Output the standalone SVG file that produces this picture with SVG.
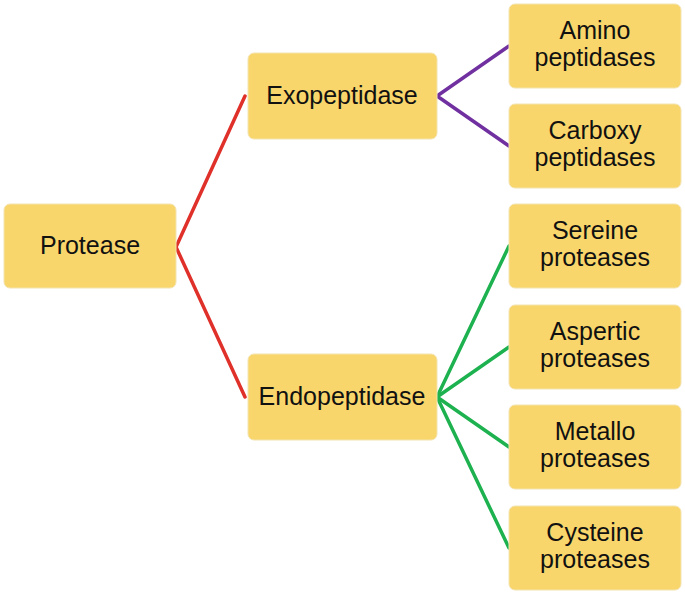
<svg xmlns="http://www.w3.org/2000/svg" width="685" height="594" viewBox="0 0 685 594">
<style>
.box{fill:#F9D66B;stroke:#F3E3B0;stroke-width:1}
.t{font-family:"Liberation Sans",Arial,sans-serif;font-size:25px;fill:#111;text-anchor:middle}
.c{fill:none;stroke-width:3.5;stroke-linecap:round;stroke-linejoin:round}
</style>
<rect width="685" height="594" fill="#fff"/>
<g id="connectors">
<polyline class="c" stroke="#E0302A" points="245,96 176,247 245,397"/>
<polyline class="c" stroke="#7030A0" points="509,46 437,96 509,146"/>
<g stroke="#1DB24F" class="c">
<line x1="437" y1="397" x2="509" y2="246"/>
<line x1="437" y1="397" x2="509" y2="347"/>
<line x1="437" y1="397" x2="509" y2="447"/>
<line x1="437" y1="397" x2="509" y2="548"/>
</g>
</g>
<g id="protease"><rect class="box" x="4" y="204" width="172" height="84" rx="6"/><text class="t" x="90" y="254">Protease</text></g>
<g id="exopeptidase"><rect class="box" x="248" y="53" width="189" height="86" rx="6"/><text class="t" x="342" y="104">Exopeptidase</text></g>
<g id="endopeptidase"><rect class="box" x="248" y="354" width="189" height="86" rx="6"/><text class="t" x="342" y="405">Endopeptidase</text></g>
<g id="amino"><rect class="box" x="509" y="4" width="172" height="84" rx="6"/><text class="t" x="595" y="39">Amino</text><text class="t" x="595" y="66">peptidases</text></g>
<g id="carboxy"><rect class="box" x="509" y="104" width="172" height="84" rx="6"/><text class="t" x="595" y="139">Carboxy</text><text class="t" x="595" y="166">peptidases</text></g>
<g id="sereine"><rect class="box" x="509" y="204" width="172" height="84" rx="6"/><text class="t" x="595" y="239">Sereine</text><text class="t" x="595" y="266">proteases</text></g>
<g id="aspertic"><rect class="box" x="509" y="305" width="172" height="84" rx="6"/><text class="t" x="595" y="340">Aspertic</text><text class="t" x="595" y="367">proteases</text></g>
<g id="metallo"><rect class="box" x="509" y="405" width="172" height="84" rx="6"/><text class="t" x="595" y="440">Metallo</text><text class="t" x="595" y="467">proteases</text></g>
<g id="cysteine"><rect class="box" x="509" y="506" width="172" height="84" rx="6"/><text class="t" x="595" y="541">Cysteine</text><text class="t" x="595" y="568">proteases</text></g>
</svg>
